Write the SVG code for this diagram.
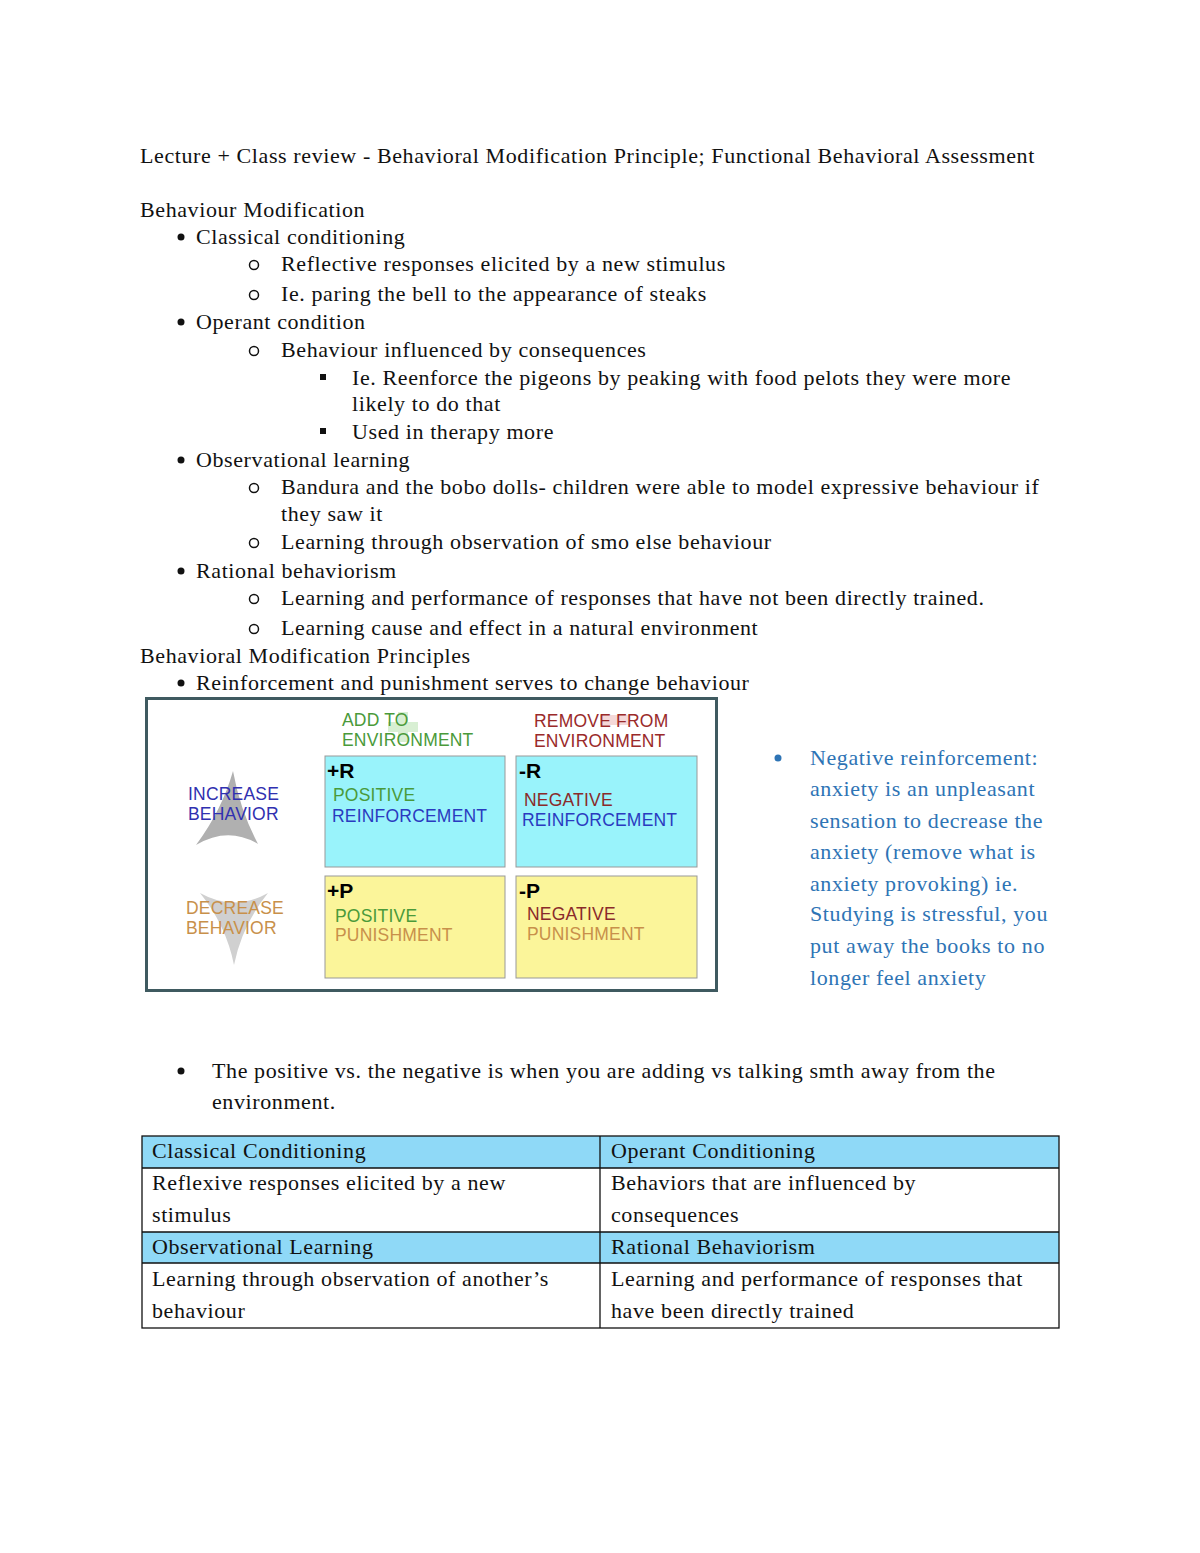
<svg xmlns="http://www.w3.org/2000/svg" width="1200" height="1553" viewBox="0 0 1200 1553">
<style>
.t{font-family:"Liberation Serif",serif;font-size:22px;letter-spacing:0.6px;fill:#111}
.b{font-family:"Liberation Serif",serif;font-size:22px;letter-spacing:0.6px;fill:#2e74b5}
.s{font-family:"Liberation Sans",sans-serif;font-size:17.5px;letter-spacing:0.2px}
.h{font-family:"Liberation Sans",sans-serif;font-size:21px;font-weight:bold;fill:#000}
</style>
<rect width="1200" height="1553" fill="#fff"/>
<g id="text">
<text class="t" x="140" y="163">Lecture + Class review - Behavioral Modification Principle; Functional Behavioral Assessment</text>
<text class="t" x="140" y="217">Behaviour Modification</text>
<g fill="#111"><circle cx="181" cy="237" r="3.5"/><circle cx="181" cy="322" r="3.5"/><circle cx="181" cy="460" r="3.5"/><circle cx="181" cy="571" r="3.5"/><circle cx="181" cy="683" r="3.5"/><circle cx="181" cy="1071" r="3.5"/>
<rect x="320" y="374" width="6" height="6"/><rect x="320" y="428" width="6" height="6"/></g>
<g fill="none" stroke="#111" stroke-width="1.5"><circle cx="254" cy="265" r="4.5"/><circle cx="254" cy="295" r="4.5"/><circle cx="254" cy="351" r="4.5"/><circle cx="254" cy="488" r="4.5"/><circle cx="254" cy="543" r="4.5"/><circle cx="254" cy="599" r="4.5"/><circle cx="254" cy="629" r="4.5"/></g>
<text class="t" x="196" y="244">Classical conditioning</text>
<text class="t" x="281" y="271">Reflective responses elicited by a new stimulus</text>
<text class="t" x="281" y="301">Ie. paring the bell to the appearance of steaks</text>
<text class="t" x="196" y="329">Operant condition</text>
<text class="t" x="281" y="357">Behaviour influenced by consequences</text>
<text class="t" x="352" y="385">Ie. Reenforce the pigeons by peaking with food pelots they were more</text>
<text class="t" x="352" y="411">likely to do that</text>
<text class="t" x="352" y="439">Used in therapy more</text>
<text class="t" x="196" y="467">Observational learning</text>
<text class="t" x="281" y="494">Bandura and the bobo dolls- children were able to model expressive behaviour if</text>
<text class="t" x="281" y="521">they saw it</text>
<text class="t" x="281" y="549">Learning through observation of smo else behaviour</text>
<text class="t" x="196" y="578">Rational behaviorism</text>
<text class="t" x="281" y="605">Learning and performance of responses that have not been directly trained.</text>
<text class="t" x="281" y="635">Learning cause and effect in a natural environment</text>
<text class="t" x="140" y="663">Behavioral Modification Principles</text>
<text class="t" x="196" y="690">Reinforcement and punishment serves to change behaviour</text>
<text class="t" x="212" y="1078">The positive vs. the negative is when you are adding vs talking smth away from the</text>
<text class="t" x="212" y="1109">environment.</text>
</g>
<g id="chart">
<rect x="146.5" y="698.5" width="570" height="292" fill="#fff" stroke="#3f5a60" stroke-width="3"/>
<path d="M398 712h10v10h10v10h-10v10h-10v-10h-10v-10h10z" fill="#c8e8c0" opacity="0.7"/>
<rect x="600" y="715" width="30" height="10" fill="#f0c8c8" opacity="0.7"/>
<path d="M233 771 Q240 810 258 844 Q228 826 196 845 Q222 810 233 771 Z" fill="#b0b0b0"/>
<path d="M234 965 Q242 925 268 893 Q234 912 200 893 Q226 925 234 965 Z" fill="#d0d0d0"/>
<text class="s" x="342" y="726" fill="#4a9a3a">ADD TO</text>
<text class="s" x="342" y="746" fill="#4a9a3a">ENVIRONMENT</text>
<text class="s" x="534" y="727" fill="#9a2a2a">REMOVE FROM</text>
<text class="s" x="534" y="747" fill="#9a2a2a">ENVIRONMENT</text>
<text class="s" x="188" y="800" fill="#3030b0">INCREASE</text>
<text class="s" x="188" y="820" fill="#3030b0">BEHAVIOR</text>
<text class="s" x="186" y="914" fill="#c8904a">DECREASE</text>
<text class="s" x="186" y="934" fill="#c8904a">BEHAVIOR</text>
<rect x="325" y="756" width="180" height="111" fill="#99f3fb" stroke="#999"/>
<rect x="516" y="756" width="181" height="111" fill="#99f3fb" stroke="#999"/>
<rect x="325" y="876" width="180" height="102" fill="#fbf59a" stroke="#999"/>
<rect x="516" y="876" width="181" height="102" fill="#fbf59a" stroke="#999"/>
<text class="h" x="327" y="778">+R</text>
<text class="h" x="519" y="778">-R</text>
<text class="h" x="327" y="898">+P</text>
<text class="h" x="519" y="898">-P</text>
<text class="s" x="333" y="801" fill="#4a9a3a">POSITIVE</text>
<text class="s" x="332" y="822" fill="#2a3ac0">REINFORCEMENT</text>
<text class="s" x="524" y="806" fill="#8a2a2a">NEGATIVE</text>
<text class="s" x="522" y="826" fill="#2a3ac0">REINFORCEMENT</text>
<text class="s" x="335" y="922" fill="#4a9a3a">POSITIVE</text>
<text class="s" x="335" y="941" fill="#c8904a">PUNISHMENT</text>
<text class="s" x="527" y="920" fill="#8a2a2a">NEGATIVE</text>
<text class="s" x="527" y="940" fill="#c8904a">PUNISHMENT</text>
</g>
<g id="note">
<circle cx="778" cy="758" r="3.5" fill="#2e74b5"/>
<text class="b" x="810" y="765">Negative reinforcement:</text>
<text class="b" x="810" y="796">anxiety is an unpleasant</text>
<text class="b" x="810" y="828">sensation to decrease the</text>
<text class="b" x="810" y="859">anxiety  (remove what is</text>
<text class="b" x="810" y="891">anxiety provoking) ie.</text>
<text class="b" x="810" y="921">Studying is stressful, you</text>
<text class="b" x="810" y="953">put away the books to no</text>
<text class="b" x="810" y="985">longer feel anxiety</text>
</g>
<g id="table">
<rect x="142" y="1136" width="917" height="32" fill="#8fd9f7"/>
<rect x="142" y="1232" width="917" height="31" fill="#8fd9f7"/>
<g stroke="#111" stroke-width="1.3" fill="none">
<rect x="142" y="1136" width="917" height="192"/>
<path d="M142 1168H1059M142 1232H1059M142 1263H1059M600 1136V1328"/>
</g>
<text class="t" x="152" y="1158">Classical Conditioning</text>
<text class="t" x="611" y="1158">Operant Conditioning</text>
<text class="t" x="152" y="1190">Reflexive responses elicited by a new</text>
<text class="t" x="152" y="1222">stimulus</text>
<text class="t" x="611" y="1190">Behaviors that are influenced by</text>
<text class="t" x="611" y="1222">consequences</text>
<text class="t" x="152" y="1254">Observational Learning</text>
<text class="t" x="611" y="1254">Rational Behaviorism</text>
<text class="t" x="152" y="1286">Learning through observation of another’s</text>
<text class="t" x="152" y="1318">behaviour</text>
<text class="t" x="611" y="1286">Learning and performance of responses that</text>
<text class="t" x="611" y="1318">have been directly trained</text>
</g>
</svg>
